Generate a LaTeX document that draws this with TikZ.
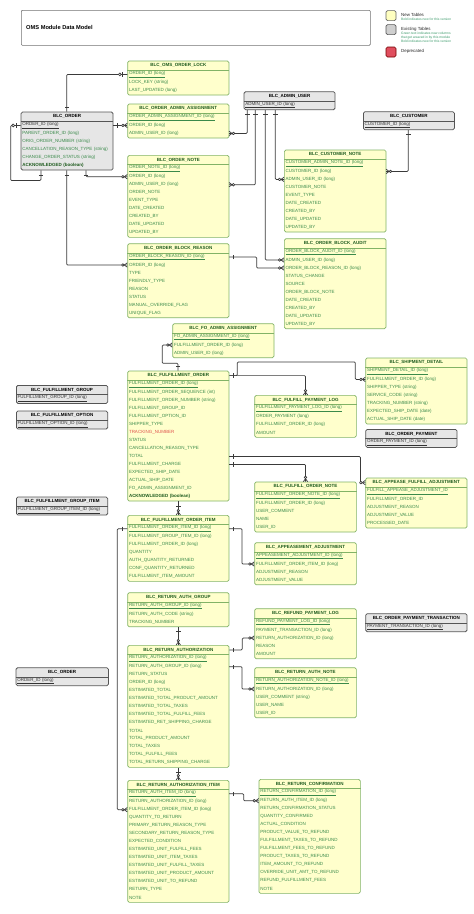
\documentclass[tikz,border=0pt]{standalone}
\usepackage{fontspec}
\setmainfont{Liberation Sans}
\usetikzlibrary{calc}
\definecolor{newfill}{HTML}{FFFFCC}
\definecolor{newdraw}{HTML}{82B366}
\definecolor{newhead}{HTML}{1E5B1E}
\definecolor{newtext}{HTML}{3A8A4A}
\definecolor{oldfill}{HTML}{E6E6E6}
\definecolor{olddraw}{HTML}{555555}
\definecolor{oldtext}{HTML}{333333}
\definecolor{linecol}{HTML}{3A3A3A}
\definecolor{trkred}{HTML}{E0504A}
\definecolor{legsub}{HTML}{3A9A6A}
\definecolor{legyel}{HTML}{FFFFC0}
\definecolor{leggray}{HTML}{CFCFCF}
\definecolor{legred}{HTML}{E04E5E}

\pgfdeclarearrow{
  name = ERmany,
  setup code = {
    \pgfarrowssettipend{0pt}
    \pgfarrowssetlineend{0pt}
    \pgfarrowssetbackend{-6pt}
    \pgfarrowshullpoint{0pt}{2.2pt}
    \pgfarrowshullpoint{0pt}{-2.2pt}
    \pgfarrowshullpoint{-6pt}{0pt}
  },
  drawing code = {
    \pgfsetdash{}{0pt}
    \pgfsetroundjoin
    \pgfpathmoveto{\pgfqpoint{0pt}{2.2pt}}
    \pgfpathlineto{\pgfqpoint{-3pt}{0pt}}
    \pgfpathlineto{\pgfqpoint{0pt}{-2.2pt}}
    \pgfusepathqstroke
    \pgfpathcircle{\pgfqpoint{-4.4pt}{0pt}}{1.3pt}
    \pgfsetfillcolor{white}
    \pgfusepathqfillstroke
  }
}
\pgfdeclarearrow{
  name = ERone,
  setup code = {
    \pgfarrowssettipend{0pt}
    \pgfarrowssetlineend{0pt}
    \pgfarrowssetbackend{-5pt}
    \pgfarrowshullpoint{-4.5pt}{2.2pt}
    \pgfarrowshullpoint{-4.5pt}{-2.2pt}
  },
  drawing code = {
    \pgfsetdash{}{0pt}
    \pgfpathmoveto{\pgfqpoint{-4.5pt}{2.2pt}}
    \pgfpathlineto{\pgfqpoint{-4.5pt}{-2.2pt}}
    \pgfusepathqstroke
  }
}
\pgfdeclarearrow{
  name = ERzo,
  setup code = {
    \pgfarrowssettipend{0pt}
    \pgfarrowssetlineend{0pt}
    \pgfarrowssetbackend{-9pt}
    \pgfarrowshullpoint{-4.5pt}{2.2pt}
    \pgfarrowshullpoint{-4.5pt}{-2.2pt}
    \pgfarrowshullpoint{-9pt}{0pt}
  },
  drawing code = {
    \pgfsetdash{}{0pt}
    \pgfpathmoveto{\pgfqpoint{-4.5pt}{2.2pt}}
    \pgfpathlineto{\pgfqpoint{-4.5pt}{-2.2pt}}
    \pgfusepathqstroke
    \pgfpathcircle{\pgfqpoint{-7.5pt}{0pt}}{1.4pt}
    \pgfsetfillcolor{white}
    \pgfusepathqfillstroke
  }
}

\newcommand\erfont{\fontsize{4.5}{5}\selectfont}
\newcommand\ergreen[1]{\textcolor{newtext}{#1}}
\newcommand\erbold[1]{\textcolor{newhead}{\bfseries #1}}
\newcommand\erred[1]{\textcolor{trkred}{#1}}

\tikzset{
  tabN/.style={draw=newdraw, fill=newfill, rounded corners=1.5pt, line width=0.7pt, inner sep=0pt},
  tabE/.style={draw=olddraw, fill=oldfill, rounded corners=1.5pt, line width=0.75pt, inner sep=0pt},
  sepN/.style={draw=newdraw, line width=0.55pt},
  sepE/.style={draw=olddraw, line width=0.6pt},
  hdN/.style={font=\erfont\bfseries, text=newhead, inner sep=0pt},
  hdE/.style={font=\erfont\bfseries, text=black, inner sep=0pt},
  rowN/.style={font=\erfont, text=newtext, inner xsep=1.5pt, inner ysep=0pt, align=left},
  rowE/.style={font=\erfont, text=oldtext, inner xsep=1.5pt, inner ysep=0pt, align=left},
  rel/.style={draw=linecol, line width=0.7pt, rounded corners=1pt},
  legbox/.style={rounded corners=1.5pt, line width=0.6pt, minimum width=10pt, minimum height=10pt, inner sep=0pt},
  legtxt/.style={font=\fontsize{4.4}{5}\selectfont, text=black!85, inner sep=0pt, anchor=west},
  legsubtxt/.style={font=\fontsize{3.3}{3.9}\selectfont, text=legsub, inner sep=0pt, anchor=west}
}

% name, x-left, y-top, width, rows, kind (N/E), header, rows
\newcommand\ertable[8]{%
  \pgfmathsetmacro\erh{10+8*#5}%
  \pgfmathsetmacro\ertw{#4-3}%
  \node[tab#6, minimum width=#4pt, minimum height=\erh pt, anchor=north west] (#1) at (#2,#3) {};
  \draw[sep#6] ([yshift=-9.5pt]#1.north west) -- ([yshift=-9.5pt]#1.north east);
  \node[hd#6, anchor=center] (#1-h) at ([yshift=-4.9pt]#1.north) {#7};
  \foreach \rowtxt [count=\ri] in {#8} {%
    \pgfmathsetmacro\ery{13.7+8*(\ri-1)}%
    \node[row#6, text width=\ertw pt, anchor=west] (#1-\ri) at ([yshift=-\ery pt]#1.north west) {\ifnum\ri=1 \underline{\rowtxt}\else\rowtxt\fi};
  }%
}

\catcode`\_=12

\begin{document}
\begin{tikzpicture}[x=1pt,y=-1pt]
\useasboundingbox (0,0) rectangle (474,914);
\fill[white] (0,0) rectangle (474,914);

% title
\node[draw=black!55, line width=0.6pt, rounded corners=1pt, minimum width=349pt, minimum height=35pt, inner sep=0pt, anchor=north west] (titlebox) at (21,10) {};
\node[font=\fontsize{5.7}{6.5}\selectfont\bfseries, inner sep=0pt, anchor=west] (title) at (26,27.3) {OMS Module Data Model};

% legend
\node[legbox, draw=black!60, fill=legyel, anchor=north west] (lgnew) at (385.7,10.3) {};
\node[legbox, draw=black!65, fill=leggray, anchor=north west] (lgold) at (385.7,24.3) {};
\node[legbox, draw=red!45!black, fill=legred, anchor=north west] (lgdep) at (385.7,46.7) {};
\node[legtxt] (lgt1) at (401,15.3) {New Tables};
\node[legsubtxt] (lgs1) at (401,19.4) {Bold indicates new for this version};
\node[legtxt] (lgt2) at (401,29) {Existing Tables};
\node[legsubtxt] (lgs2) at (401,33.3) {Green text indicates new columns};
\node[legsubtxt] (lgs3) at (401,37.3) {that get weaved in by this module};
\node[legsubtxt] (lgs4) at (401,41.3) {Bold indicates new for this version};
\node[legtxt] (lgt3) at (401,51.5) {Deprecated};

% tables
\ertable{lock}{127.3}{60.7}{101.3}{3}{N}{BLC_OMS_ORDER_LOCK}{ORDER_ID (long),LOCK_KEY (string),LAST_UPDATED (long)}
\ertable{oaa}{127.3}{103.7}{101.3}{3}{N}{BLC_ORDER_ADMIN_ASSIGNMENT}{ORDER_ADMIN_ASSIGNMENT_ID (long),ORDER_ID (long),ADMIN_USER_ID (long)}
\ertable{order}{20.7}{111.7}{92}{6}{E}{BLC_ORDER}{ORDER_ID (long),\ergreen{PARENT_ORDER_ID (long)},\ergreen{ORIG_ORDER_NUMBER (string)},\ergreen{CANCELLATION_REASON_TYPE (string)},\ergreen{CHANGE_ORDER_STATUS (string)},\erbold{ACKNOWLEDGED (boolean)}}
\ertable{admin}{243.7}{91.3}{91}{1}{E}{BLC_ADMIN_USER}{ADMIN_USER_ID (long)}
\ertable{customer}{363}{111.3}{91}{1}{E}{BLC_CUSTOMER}{CUSTOMER_ID (long)}
\ertable{note}{127.3}{155}{101.3}{9}{N}{BLC_ORDER_NOTE}{ORDER_NOTE_ID (long),ORDER_ID (long),ADMIN_USER_ID (long),ORDER_NOTE,EVENT_TYPE,DATE_CREATED,CREATED_BY,DATE_UPDATED,UPDATED_BY}
\ertable{cnote}{284}{149.7}{101.7}{9}{N}{BLC_CUSTOMER_NOTE}{CUSTOMER_ADMIN_NOTE_ID (long),CUSTOMER_ID (long),ADMIN_USER_ID (long),CUSTOMER_NOTE,EVENT_TYPE,DATE_CREATED,CREATED_BY,DATE_UPDATED,UPDATED_BY}
\ertable{reason}{127.3}{243.3}{101.3}{8}{N}{BLC_ORDER_BLOCK_REASON}{ORDER_BLOCK_REASON_ID (long),ORDER_ID (long),TYPE,FRIENDLY_TYPE,REASON,STATUS,MANUAL_OVERRIDE_FLAG,UNIQUE_FLAG}
\ertable{audit}{284}{238.3}{101.7}{10}{N}{BLC_ORDER_BLOCK_AUDIT}{ORDER_BLOCK_AUDIT_ID (long),ADMIN_USER_ID (long),ORDER_BLOCK_REASON_ID (long),STATUS_CHANGE,SOURCE,ORDER_BLOCK_NOTE,DATE_CREATED,CREATED_BY,DATE_UPDATED,UPDATED_BY}
\ertable{foa}{172.3}{323.3}{101.4}{3}{N}{BLC_FO_ADMIN_ASSIGNMENT}{FO_ADMIN_ASSIGNMENT_ID (long),FULFILLMENT_ORDER_ID (long),ADMIN_USER_ID (long)}
\ertable{fo}{127.3}{370.7}{101.3}{15}{N}{BLC_FULFILLMENT_ORDER}{FULFILLMENT_ORDER_ID (long),FULFILLMENT_ORDER_SEQUENCE (int),FULFILLMENT_ORDER_NUMBER (string),FULFILLMENT_GROUP_ID,FULFILLMENT_OPTION_ID,SHIPPER_TYPE,\erred{TRACKING_NUMBER},STATUS,CANCELLATION_REASON_TYPE,TOTAL,FULFILLMENT_CHARGE,EXPECTED_SHIP_DATE,ACTUAL_SHIP_DATE,FO_ADMIN_ASSIGNMENT_ID,\erbold{ACKNOWLEDGED (boolean)}}
\ertable{fg}{16}{385}{91.3}{1}{E}{BLC_FULFILLMENT_GROUP}{FULFILLMENT_GROUP_ID (long)}
\ertable{fopt}{16}{410.7}{91.3}{1}{E}{BLC_FULFILLMENT_OPTION}{FULFILLMENT_OPTION_ID (long)}
\ertable{ship}{365.3}{357.7}{101.4}{7}{N}{BLC_SHIPMENT_DETAIL}{SHIPMENT_DETAIL_ID (long),FULFILLMENT_ORDER_ID (long),SHIPPER_TYPE (string),SERVICE_CODE (string),TRACKING_NUMBER (string),EXPECTED_SHIP_DATE (date),ACTUAL_SHIP_DATE (date)}
\ertable{fpl}{254.3}{395}{101.7}{4}{N}{BLC_FULFILL_PAYMENT_LOG}{FULFILLMENT_PAYMENT_LOG_ID (long),ORDER_PAYMENT (long),FULFILLMENT_ORDER_ID (long),AMOUNT}
\ertable{op}{365.3}{429}{91.4}{1}{E}{BLC_ORDER_PAYMENT}{ORDER_PAYMENT_ID (long)}
\ertable{fon}{254.3}{481.7}{101.7}{5}{N}{BLC_FULFILL_ORDER_NOTE}{FULFILLMENT_ORDER_NOTE_ID (long),FULFILLMENT_ORDER_ID (long),USER_COMMENT,NAME,USER_ID}
\ertable{apa}{365.3}{477.7}{101.4}{5}{N}{BLC_APPEASE_FULFILL_ADJUSTMENT}{FULFILL_APPEASE_ADJUSTMENT_ID,FULFILLMENT_ORDER_ID,ADJUSTMENT_REASON,ADJUSTMENT_VALUE,PROCESSED_DATE}
\ertable{fgi}{16}{496.7}{91.3}{1}{E}{BLC_FULFILLMENT_GROUP_ITEM}{FULFILLMENT_GROUP_ITEM_ID (long)}
\ertable{foi}{127.3}{515}{101.3}{7}{N}{BLC_FULFILLMENT_ORDER_ITEM}{FULFILLMENT_ORDER_ITEM_ID (long),FULFILLMENT_GROUP_ITEM_ID (long),FULFILLMENT_ORDER_ID (long),QUANTITY,AUTH_QUANTITY_RETURNED,CONF_QUANTITY_RETURNED,FULFILLMENT_ITEM_AMOUNT}
\ertable{aa}{254.3}{542.3}{101.7}{4}{N}{BLC_APPEASEMENT_ADJUSTMENT}{APPEASEMENT_ADJUSTMENT_ID (long),FULFILLMENT_ORDER_ITEM_ID (long),ADJUSTMENT_REASON,ADJUSTMENT_VALUE}
\ertable{rag}{127.3}{592.3}{101.3}{3}{N}{BLC_RETURN_AUTH_GROUP}{RETURN_AUTH_GROUP_ID (long),RETURN_AUTH_CODE (string),TRACKING_NUMBER}
\ertable{rpl}{254.3}{608.3}{101.7}{5}{N}{BLC_REFUND_PAYMENT_LOG}{REFUND_PAYMENT_LOG_ID (long),PAYMENT_TRANSACTION_ID (long),RETURN_AUTHORIZATION_ID (long),REASON,AMOUNT}
\ertable{opt}{365.3}{613.3}{101.4}{1}{E}{BLC_ORDER_PAYMENT_TRANSACTION}{PAYMENT_TRANSACTION_ID (long)}
\ertable{ra}{127.3}{645}{101.3}{14}{N}{BLC_RETURN_AUTHORIZATION}{RETURN_AUTHORIZATION_ID (long),RETURN_AUTH_GROUP_ID (long),RETURN_STATUS,ORDER_ID (long),ESTIMATED_TOTAL,ESTIMATED_TOTAL_PRODUCT_AMOUNT,ESTIMATED_TOTAL_TAXES,ESTIMATED_TOTAL_FULFILL_FEES,ESTIMATED_RET_SHIPPING_CHARGE,TOTAL,TOTAL_PRODUCT_AMOUNT,TOTAL_TAXES,TOTAL_FULFILL_FEES,TOTAL_RETURN_SHIPPING_CHARGE}
\ertable{order2}{15.7}{667.3}{92.3}{1}{E}{BLC_ORDER}{ORDER_ID (long)}
\ertable{ran}{254.3}{667.3}{101.7}{5}{N}{BLC_RETURN_AUTH_NOTE}{RETURN_AUTHORIZATION_NOTE_ID (long),RETURN_AUTHORIZATION_ID (long),USER_COMMENT (string),USER_NAME,USER_ID}
\ertable{rai}{127.3}{780}{101.3}{14}{N}{BLC_RETURN_AUTHORIZATION_ITEM}{RETURN_AUTH_ITEM_ID (long),RETURN_AUTHORIZATION_ID (long),FULFILLMENT_ORDER_ITEM_ID (long),QUANTITY_TO_RETURN,PRIMARY_RETURN_REASON_TYPE,SECONDARY_RETURN_REASON_TYPE,EXPECTED_CONDITION,ESTIMATED_UNIT_FULFILL_FEES,ESTIMATED_UNIT_ITEM_TAXES,ESTIMATED_UNIT_FULFILL_TAXES,ESTIMATED_UNIT_PRODUCT_AMOUNT,ESTIMATED_UNIT_TO_REFUND,RETURN_TYPE,NOTE}
\ertable{rc}{258.7}{779}{101.3}{13}{N}{BLC_RETURN_CONFIRMATION}{RETURN_CONFIRMATION_ID (long),RETURN_AUTH_ITEM_ID (long),RETURN_CONFIRMATION_STATUS,QUANTITY_CONFIRMED,ACTUAL_CONDITION,PRODUCT_VALUE_TO_REFUND,FULFILLMENT_TAXES_TO_REFUND,FULFILLMENT_FEES_TO_REFUND,PRODUCT_TAXES_TO_REFUND,ITEM_AMOUNT_TO_REFUND,OVERRIDE_UNIT_AMT_TO_REFUND,REFUND_FULFILLMENT_FEES,NOTE}

% connectors
\draw[rel, arrows={ERone-ERzo}] ([xshift=46pt]order.north west) |- (lock-1.west);
\draw[rel, arrows={ERone-ERmany}] (order-1.east) -- (oaa-2.west);
\draw[rel, arrows={ERzo-ERone}] (order-1.west) -| ([xshift=-10pt,yshift=-10pt]order.south west) -| ([xshift=20.3pt]order.south west);
\draw[rel, arrows={ERone-ERmany}] ([xshift=65.3pt]order.south west) |- (note-2.west);
\draw[rel, arrows={ERone-ERmany}] ([xshift=46pt]order.south west) |- (reason-2.west);

\draw[rel, arrows={ERone-ERmany}] ([xshift=3.6pt]admin.south west) |- (oaa-3.east);
\draw[rel, arrows={ERone-ERmany}] ([xshift=11.6pt]admin.south west) |- (note-3.east);
\draw[rel, arrows={ERone-ERmany}] ([xshift=21.6pt]admin.south west) |- (audit-2.west);
\draw[rel, arrows={ERone-ERmany}] ([xshift=31.6pt]admin.south west) |- (cnote-3.west);
\draw[rel, arrows={ERone-ERmany}] ([xshift=45.3pt]customer.south west) |- (cnote-2.east);
\draw[rel, arrows={ERone-ERmany}] (reason-1.east) -- ++(27.7,0) |- (audit-3.west);

\draw[rel, arrows={ERone-ERmany}] ([xshift=50.7pt]fo.north west) |- ([xshift=-10pt,yshift=-18.3pt]foa-2.west) |- (foa-2.west);
\draw[rel, arrows={ERone-ERmany}] (fo-h -| fo.east) -- ++(8,0) |- ([xshift=-10pt,yshift=17.4pt]ship-2.west) |- (ship-2.west);
\draw[rel, arrows={ERone-ERmany}] (fo-h -| fo.east) -| (fpl.north);
\draw[rel, arrows={ERone-ERmany}] (fo-10.east) -- ++(131.4,0) |- (apa-h -| apa.west);
\draw[rel, arrows={ERone-ERmany}] (fo-11.east) -| (fon.north);
\draw[rel, arrows={ERone-ERmany}] (fo.south) -- (foi.north);
\draw[rel, arrows={ERone-ERmany}] (foi-1.east) -- ++(13,0) |- (aa-2.west);
\draw[rel, arrows={ERone-ERmany}] (foi-1.west) -- ++(-10,0) |- (rai-3.west);
\draw[rel, arrows={ERone-ERmany}] (rag.south) -- (ra.north);
\draw[rel, arrows={ERone-ERmany}] (ra-h -| ra.east) -- ++(13,0) |- (rpl-3.west);
\draw[rel, arrows={ERone-ERmany}] (ra-2.east) -- ++(13,0) |- (ran-2.west);
\draw[rel, arrows={ERone-ERmany}] (ra.south) -- (rai.north);
\draw[rel, arrows={ERone-ERmany}] (rai-1.east) -- ++(14.7,0) |- (rc-2.west);
\end{tikzpicture}
\end{document}
